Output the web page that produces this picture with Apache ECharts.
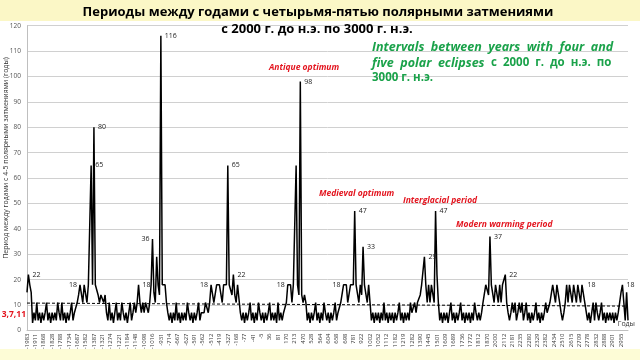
<!DOCTYPE html>
<html><head><meta charset="utf-8">
<script src="https://cdn.jsdelivr.net/npm/echarts@6/dist/echarts.min.js"></script>
<style>html,body{margin:0;padding:0;background:#fff}#c{width:640px;height:360px}</style>
</head><body><div id="c"></div>
<script>
// Tick labels (every 6th event year)
const tickYears = [-1983,-1911,-1868,-1828,-1788,-1734,-1687,-1582,-1387,-1321,-1274,-1221,-1184,-1148,-1098,-1016,-931,-714,-667,-627,-591,-562,-512,-419,-327,-168,-77,-41,-5,36,81,170,213,470,528,564,604,658,698,781,922,1002,1052,1112,1182,1219,1282,1390,1445,1501,1609,1689,1736,1772,1812,1870,2000,2112,2181,2235,2280,2329,2382,2434,2510,2615,2709,2778,2832,2888,2901,2955];
const tickStep = 6;

// Intervals between years with 4-5 polar eclipses (years)
const intervals = [
  15,22,18,15,3, 7,4,11,4,7,3,7,4,7,11,4,7,3,7,4,7,4,11,7,4,11,4,7,3,7,4,7,11,4,7,
  7,11,14,18,18,11,18,18,11,18,18,65,18,80,18,18,14,11,14,14,11,14,7,
  4,11,4,7,3,7,11,4,7,4,11,7,4,7,3,7,11,4,7,11,7,
  11,18,11,7,11,7,11,11,7,11,18,36,15,11,29,18,14,116,18,18,18,11,7,
  4,7,3,7,4,11,4,7,3,7,4,7,4,11,7,4,7,3,7,4,7,11,4,7,7,
  7,11,11,7,11,18,18,11,11,18,18,18,18,11,18,18,18,65,18,18,14,22,14,11,18,18,7,
  4,7,3,7,4,7,11,4,7,3,7,4,11,7,4,7,3,7,4,7,11,4,7,4,7,3,11,4,7,4,7,
  7,11,18,18,18,11,18,18,65,18,14,98,14,11,14,11,4,
  7,3,7,4,7,11,4,7,3,7,4,11,7,4,7,3,7,4,7,11,4,7,
  7,11,11,18,18,18,11,11,18,18,18,47,18,18,11,18,14,33,18,18,11,18,18,4,
  7,3,7,4,7,3,7,4,11,4,7,3,7,4,7,3,7,4,7,11,4,7,3,7,4,7,4,11,7,7,
  11,7,11,11,14,18,18,29,18,11,18,11,18,18,11,47,22,11,4,
  7,3,7,4,7,3,7,11,4,7,3,7,4,7,11,4,7,3,7,4,7,3,7,4,11,7,4,7,4,
  7,11,11,18,18,14,37,18,18,11,18,18,11,18,11,18,18,22,11,7,
  4,7,11,7,11,4,7,11,7,11,4,7,11,4,7,3,7,4,7,11,4,7,3,7,4,7,11,7,
  7,11,11,18,18,11,18,18,11,7,4,7,11,18,11,18,18,11,18,18,11,18,18,11,18,18,11,11,4,
  7,3,7,11,4,11,7,4,7,11,4,7,3,7,4,7,4,7,3,7,4,
  7,11,15,18,11,4,15,4
];
const trend = [10.8, 9.6];
const labelRight = [1,46,48,80,96,144,148,196,235,241,285,293,332,343,399,427];
const labelLeft = [38,90,132,187,227];

const titleLine1 = 'Периоды между годами с четырьмя-пятью полярными затмениями';
const titleLine2 = 'с 2000 г. до н.э. по 3000 г. н.э.';
const greenLine1 = 'Intervals  between  years  with  four  and';
const greenLine2a = 'five  polar  eclipses';
const greenLine2b = 'с  2000  г.  до  н.э.  по';
const greenLine3 = '3000 г. н.э.';
const periodNames = ['Antique optimum','Medieval optimum','Interglacial period','Modern warming period'];
const yAxisName = 'Период между годами с 4-5 полярными затмениями (годы)';
const xAxisName = 'Годы';
const baseNote = '3,7,11';

const N = intervals.length;
const categories = intervals.map((v,i)=> i % tickStep === 0 ? String(tickYears[i/tickStep]) : 'e'+i);
const peakPoints = labelRight.map(i=>({coord:[categories[i], intervals[i]], value:intervals[i], label:{position:'right', distance:4}}))
  .concat(labelLeft.map(i=>({coord:[categories[i], intervals[i]], value:intervals[i], label:{position:'left', distance:3}})));

const chart = echarts.init(document.getElementById('c'), null, {renderer:'canvas'});
const red = '#e3141e', green = '#1aa24a';
const redFont = 'italic bold 8.5px "Open Sans"';
const gItal = 'italic bold 12.5px "Open Sans"';
const gUp = 'bold 11.5px "Open Sans"';
const greenRich = {i:{font:gItal, fill:green, fontStyle:'italic', fontWeight:'bold', fontSize:12.5, fontFamily:'Open Sans', color:green},
                   u:{font:gUp, fill:green, fontWeight:'bold', fontSize:11.5, fontFamily:'Open Sans', color:green}};
chart.setOption({
  animation:false,
  backgroundColor:'#ffffff',
  grid:{left:27, right:12, top:25.7, bottom:29.5, containLabel:false},
  xAxis:{
    type:'category', data:categories, boundaryGap:false,
    axisLine:{show:true, lineStyle:{color:'#bfbfbf', width:1}},
    axisTick:{show:false},
    splitLine:{show:false},
    axisLabel:{interval:tickStep-1, rotate:90, fontSize:6, color:'#333', margin:3, fontFamily:'Open Sans',
      formatter:(v,idx)=> idx % tickStep === 0 ? String(tickYears[idx/tickStep]) : ''}
  },
  yAxis:{
    type:'value', min:0, max:120, interval:10,
    axisLine:{show:true, lineStyle:{color:'#bfbfbf', width:1}},
    axisTick:{show:false},
    splitLine:{show:true, lineStyle:{color:'#d0d0d0', width:1}},
    axisLabel:{fontSize:6.5, color:'#555', margin:6, fontFamily:'Open Sans'}
  },
  series:[{
    type:'line', data:intervals, symbol:'none', showSymbol:false,
    lineStyle:{color:'#000', width:1.5}, z:3,
    markPoint:{silent:true, symbol:'circle', symbolSize:0, data:peakPoints,
      label:{show:true, fontSize:7, color:'#222', fontFamily:'Open Sans', formatter:'{c}'}},
    markLine:{silent:true, symbol:'none', label:{show:false},
      lineStyle:{type:[3,2], color:'#000', width:1},
      data:[[{coord:[categories[0], trend[0]]},{coord:[categories[N-1], trend[1]]}]]}
  }],
  graphic:[
    {type:'rect', z:-10, shape:{x:0,y:0,width:640,height:21}, style:{fill:'#fbf7c6'}},
    {type:'rect', z:-10, shape:{x:0,y:349,width:640,height:11}, style:{fill:'#fdfcd6'}},
    {type:'text', z:10, x:318, y:12, style:{text:titleLine1, font:'bold 13px "Open Sans"', fill:'#000', textAlign:'center', textVerticalAlign:'middle'}},
    {type:'text', z:10, x:317, y:29, style:{text:titleLine2, font:'bold 13px "Open Sans"', fill:'#000', textAlign:'center', textVerticalAlign:'middle'}},
    {type:'text', z:10, x:372, y:47, style:{text:greenLine1, font:gItal, fill:green, textVerticalAlign:'middle'}},
    {type:'text', z:10, x:372, y:63, style:{text:'{i|'+greenLine2a+'}  {u|'+greenLine2b+'}', rich:greenRich, font:gItal, fill:green, textVerticalAlign:'middle'}},
    {type:'text', z:10, x:372, y:78, style:{text:greenLine3, font:gUp, fill:green, textVerticalAlign:'middle'}},
    {type:'text', z:10, x:269, y:68, style:{text:periodNames[0], font:redFont, fill:red, textVerticalAlign:'middle'}},
    {type:'text', z:10, x:319, y:194, style:{text:periodNames[1], font:redFont, fill:red, textVerticalAlign:'middle'}},
    {type:'text', z:10, x:403, y:201, style:{text:periodNames[2], font:redFont, fill:red, textVerticalAlign:'middle'}},
    {type:'text', z:10, x:456, y:225, style:{text:periodNames[3], font:redFont, fill:red, textVerticalAlign:'middle'}},
    {type:'text', z:10, x:6, y:158, rotation:Math.PI/2, style:{text:yAxisName, font:'7px "Open Sans"', fill:'#333', textAlign:'center', textVerticalAlign:'middle'}},
    {type:'text', z:10, x:635, y:324, style:{text:xAxisName, font:'7px "Open Sans"', fill:'#333', textAlign:'right', textVerticalAlign:'middle'}},
    {type:'text', z:10, x:26, y:315, style:{text:baseNote, font:'bold 8.5px "Open Sans"', fill:red, textAlign:'right', textVerticalAlign:'middle'}}
  ]
});
</script></body></html>
